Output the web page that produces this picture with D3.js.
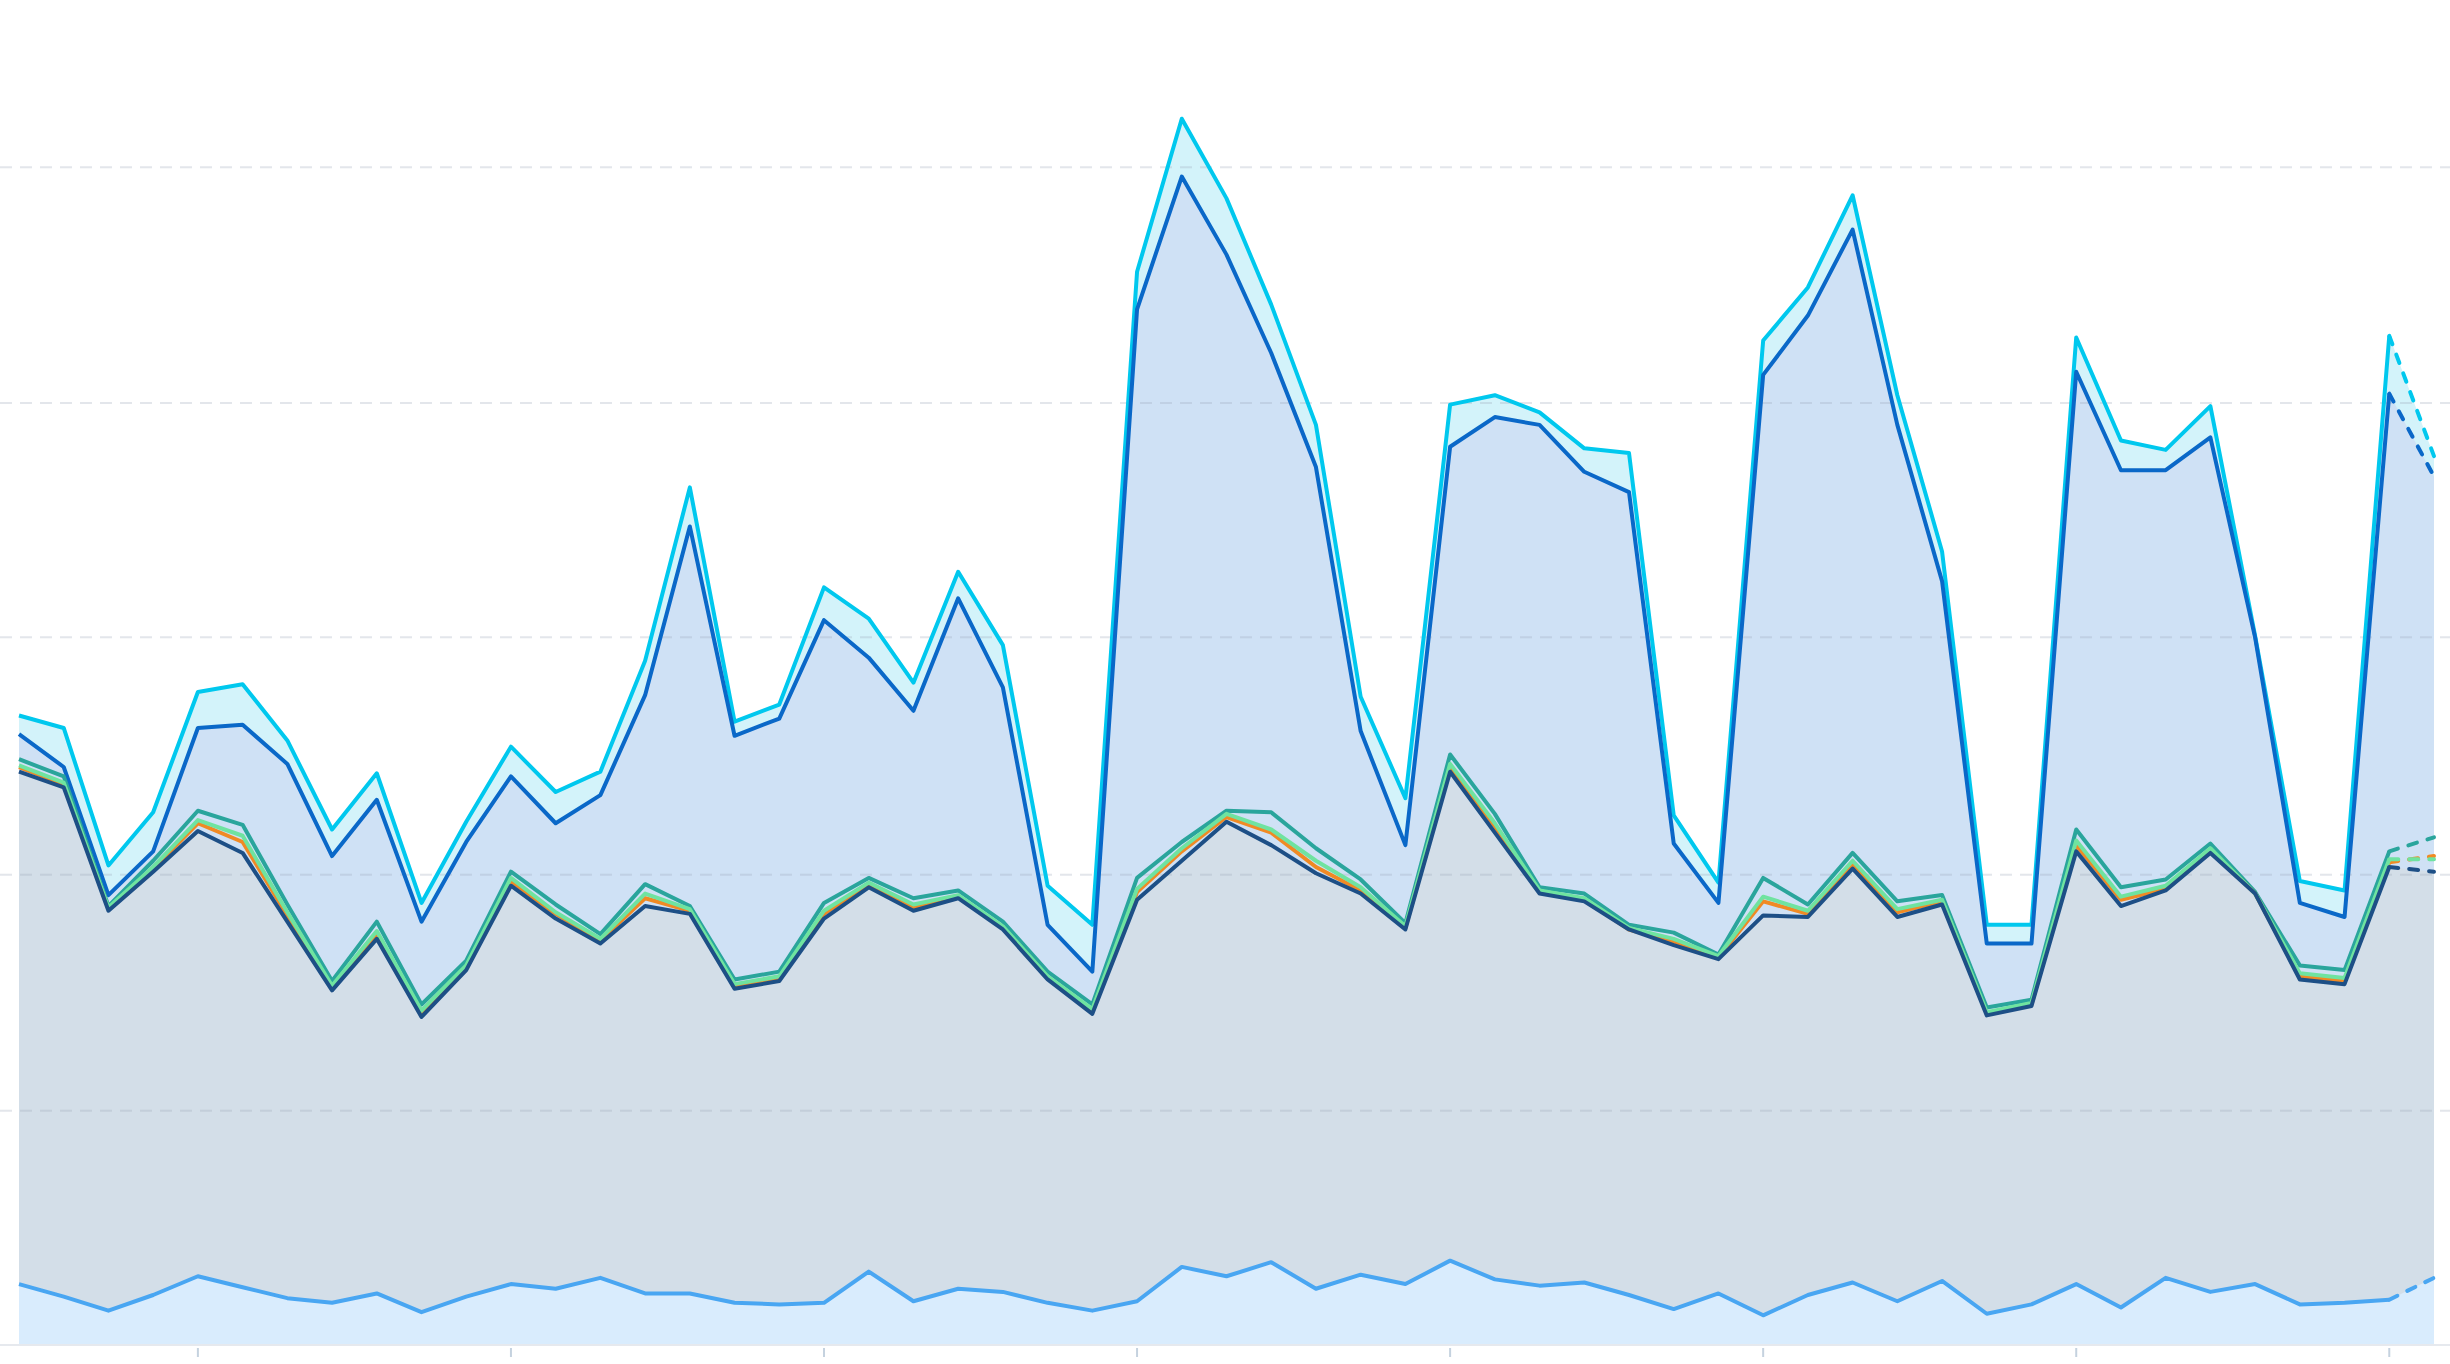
<!DOCTYPE html>
<html><head><meta charset="utf-8">
<script src="https://cdn.jsdelivr.net/npm/d3@7"></script>
<style>body{margin:0;background:#fff}</style></head>
<body><div id="chart"></div>
<script>
var width = 2450, height = 1364;
// last value of each series is the projected (dashed) point
var sessions = [403,395,307,341,418,423,387,330,366,283,335,383,354,367,438,549,399,410,485,465,424,495,448,294,269,687,785,734,666,589,415,350,602,608,597,574,571,339,296,643,677,736,608,508,269,269,645,579,573,601,454,297,291,646,569];
var users = [391,370,288,316,395,397,372,313,349,271,322,364,334,352,416,524,390,401,464,440,406,478,421,269,239,663,748,698,635,562,393,320,575,594,589,559,546,321,283,621,659,714,589,489,257,257,623,560,560,581,453,283,274,609,556];
var teal = [375,364,281,310,342,333,282,233,271,218,246,303,282,263,295,281,234,239,283,299,286,291,271,239,218,299,322,342,341,318,298,270,378,340,293,289,269,264,250,299,282,315,284,288,216,221,330,293,298,321,290,243,240,316,325];
var green = [371,360,280,306,336,326,277,230,265,214,243,299,277,260,289,279,231,236,278,296,282,288,268,236,215,292,318,340,330,310,293,268,372,334,291,286,267,260,249,287,278,310,279,285,213,219,323,287,294,318,289,238,235,311,311];
var orange = [370,359,279,305,334,322,275,229,263,212,242,297,276,259,286,278,230,235,276,295,280,287,267,235,214,290,316,338,328,306,291,267,370,332,290,285,266,258,248,284,276,308,277,284,212,218,320,285,292,317,289,236,233,309,313];
var navy = [367,357,278,303,329,315,271,227,260,210,240,294,273,257,281,276,228,233,273,293,278,286,266,234,212,285,310,335,320,302,289,266,367,328,289,284,266,256,247,275,274,305,274,282,211,217,316,281,291,315,289,234,231,306,303];
var bottom = [39,31,22,32,44,37,30,27,33,21,31,39,36,43,33,33,27,26,27,47,28,36,34,27,22,28,50,44,53,36,45,39,54,42,38,40,32,23,33,19,32,40,28,41,20,26,39,24,43,34,39,26,27,29,43];
var gridVals = [150,301,453,603,754];
var tickIdx = [4,11,18,25,32,39,46,53];

var n = sessions.length;
var x = d3.scaleLinear().domain([0, n - 1]).range([19, 2434]);
var y = d3.scaleLinear().domain([0, 861]).range([1345, 0]);

var svg = d3.select("#chart").append("svg").attr("width", width).attr("height", height);

var area = d3.area().x(function(d, i) { return x(i); }).y0(y(0)).y1(function(d) { return y(d); });
var series = [
  {v: sessions, fill: "#d3f3fa", stroke: "#00c8ee"},
  {v: users, fill: "#cfe1f5", stroke: "#0a68c8"},
  {v: teal, fill: null, stroke: "#2aa59c"},
  {v: orange, fill: null, stroke: "#f08a24"},
  {v: green, fill: null, stroke: "#6fe3a0"},
  {v: navy, fill: "#d3dee8", stroke: "#1d4f86"},
  {v: bottom, fill: "#d9ecfd", stroke: "#49a6f2"}
];
series.forEach(function(s) {
  if (s.fill) svg.append("path").attr("d", area(s.v)).attr("fill", s.fill);
});

// grid over the fills, semi transparent
svg.selectAll(".grid").data(gridVals).enter().append("line")
  .attr("x1", 0).attr("x2", width)
  .attr("y1", function(d) { return y(d); }).attr("y2", function(d) { return y(d); })
  .attr("stroke", "#9aa5b8").attr("stroke-opacity", 0.28).attr("stroke-width", 2).attr("stroke-dasharray", "12,8");

svg.append("line").attr("x1", 0).attr("x2", width).attr("y1", y(0)).attr("y2", y(0))
  .attr("stroke", "#e6e9ee").attr("stroke-width", 2);
svg.selectAll(".tick").data(tickIdx).enter().append("line")
  .attr("x1", function(d) { return x(d); }).attr("x2", function(d) { return x(d); })
  .attr("y1", y(0) + 3).attr("y2", y(0) + 12)
  .attr("stroke", "#c5d2df").attr("stroke-width", 2);

var line = d3.line().x(function(d, i) { return x(i); }).y(function(d) { return y(d); });
series.forEach(function(s) {
  var solid = s.v.slice(0, n - 1);
  svg.append("path").attr("d", line(solid)).attr("fill", "none")
    .attr("stroke", s.stroke).attr("stroke-width", 4).attr("stroke-linejoin", "round");
  var proj = [s.v[n - 2], s.v[n - 1]];
  svg.append("path")
    .attr("d", d3.line().x(function(d, i) { return x(n - 2 + i); }).y(function(d) { return y(d); })(proj))
    .attr("fill", "none").attr("stroke", s.stroke).attr("stroke-width", 4)
    .attr("stroke-dasharray", "9,11").attr("stroke-linecap", "round");
});
</script></body></html>
